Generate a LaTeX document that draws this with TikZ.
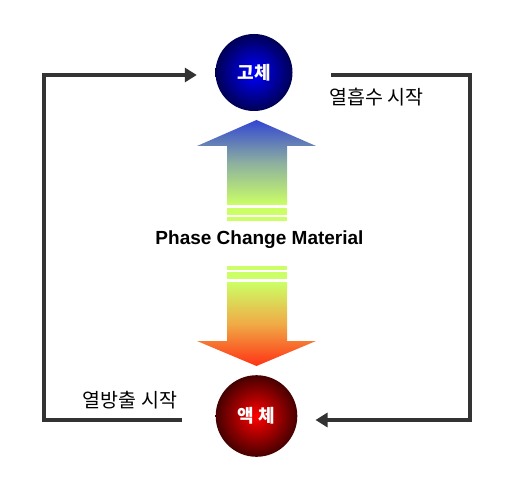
\documentclass[tikz,border=0pt]{standalone}
\usepackage{fontspec}
\setmainfont{Liberation Sans}
\newfontfamily\kr{Noto Sans CJK KR}
\usetikzlibrary{arrows.meta}
\definecolor{lineg}{RGB}{51,51,51}
\definecolor{bluein}{RGB}{0,0,255}
\definecolor{blueout}{RGB}{0,0,85}
\definecolor{redin}{RGB}{255,0,0}
\definecolor{redout}{RGB}{70,0,0}
\definecolor{arrblue}{RGB}{51,70,210}
\definecolor{arrmid}{RGB}{140,175,160}
\definecolor{ygreen}{RGB}{204,255,102}
\definecolor{arrorange}{RGB}{240,170,70}
\definecolor{arrred}{RGB}{255,50,20}
\tikzset{
  conn/.style={draw=lineg, line width=4pt, -{Triangle[length=12pt,width=14pt]}},
  ball/.style={circle, inner sep=0pt, text=white, font=\kr\bfseries\fontsize{18}{20}\selectfont},
  lab/.style={font=\kr\fontsize{19.5}{22}\selectfont, text=black, inner sep=0pt},
  stripe/.style={fill=ygreen, draw=none}
}
\begin{document}
\begin{tikzpicture}[x=1pt,y=-1pt]
\useasboundingbox (0,0) rectangle (514,489);
% circles
\shade[inner color=bluein, outer color=blueout] (254,72.5) circle (38.5);
\node[ball, minimum size=77pt] (solid) at (254,72.5) {고체};
\shade[inner color=redin, outer color=redout] (256.5,416) circle (40.8);
\node[ball, minimum size=81.6pt] (liquid) at (256.5,416) {액 체};
% up arrow
\shade[top color=arrblue, bottom color=ygreen, middle color=arrmid]
  (256.5,120) -- (316,146) -- (287,146) -- (287,205) -- (227,205) -- (227,146) -- (197,146) -- cycle;
\path[stripe] (227,208) rectangle (287,215);
\path[stripe] (227,217) rectangle (287,221);
% down arrow
\path[stripe] (227,266) rectangle (287,270);
\path[stripe] (227,272) rectangle (287,279);
\shade[top color=ygreen, bottom color=arrred, middle color=arrorange]
  (227,282) -- (287,282) -- (287,341) -- (316,341) -- (256.5,366) -- (197,341) -- (227,341) -- cycle;
% label
\node[font=\bfseries\fontsize{19}{22}\selectfont, inner sep=0pt] (pcm) at (259.5,240) {Phase Change Material};
% connectors
\coordinate (bl) at (182,419.5);
\coordinate (tr) at (331,75);
\draw[conn] (bl) -- (43.5,419.5) |- ([xshift=-18.5pt,yshift=-2.5pt]solid.west);
\draw[conn] (tr) -- (470,75) |- ([xshift=18pt,yshift=-4pt]liquid.east);
% texts
\node[lab] (absorb) at (376.5,97) {열흡수 시작};
\node[lab] (release) at (130,400) {열방출 시작};
\end{tikzpicture}
\end{document}
